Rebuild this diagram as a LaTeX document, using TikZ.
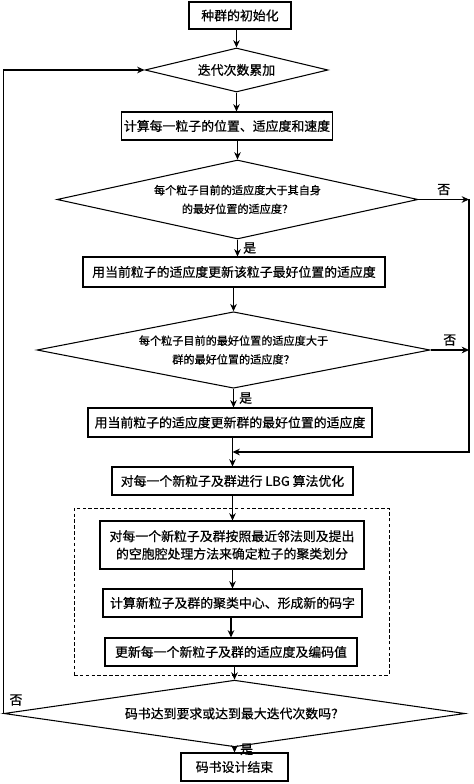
\documentclass[tikz,border=0pt]{standalone}
\usepackage{fontspec}
\setmainfont{Noto Sans CJK SC}[FakeBold=0.6]
\usetikzlibrary{arrows.meta,shapes.geometric}

\begin{document}
\begin{tikzpicture}[
  x=0.3mm, y=-0.3mm,
  box/.style={rectangle, draw, line width=0.9pt, font=\fontsize{11}{15}\selectfont,
              align=center, inner sep=2pt},
  dia/.style={diamond, draw, line width=0.9pt, font=\fontsize{#1}{16}\selectfont,
              align=center, inner sep=0pt, aspect=4},
  dia/.default=11,
  group/.style={rectangle, draw, line width=0.8pt, dash pattern=on 3pt off 2pt},
  ar/.style={-{Stealth[length=2.2mm, width=2mm]}, line width=0.9pt},
  lb/.style={font=\fontsize{11}{13}\selectfont, inner sep=1pt}
]
\useasboundingbox (0,0) rectangle (474,784);

\node[box, minimum width=30.6mm, minimum height=8.1mm] (init) at (240,15.5) {种群的初始化};
\node[dia, minimum width=54.9mm, minimum height=13.2mm] (d1) at (236.5,70) {迭代次数累加};
\node[box, minimum width=63mm, minimum height=8.4mm] (calc) at (227,126) {计算每一粒子的位置、适应度和速度};
\node[dia=9.5, minimum width=108.3mm, minimum height=23.7mm] (d2) at (237.5,199.5)
  {每个粒子目前的适应度大于其自身\\的最好位置的适应度？};
\node[box, minimum width=90.6mm, minimum height=9mm] (pb) at (234,272) {用当前粒子的适应度更新该粒子最好位置的适应度};
\node[dia=9.5, minimum width=117.9mm, minimum height=22.2mm] (d3) at (233.5,350)
  {每个粒子目前的最好位置的适应度大于\\群的最好位置的适应度？};
\node[box, minimum width=85.2mm, minimum height=8.7mm] (gb) at (230,422.5) {用当前粒子的适应度更新群的最好位置的适应度};
\node[box, minimum width=72.3mm, minimum height=8.4mm] (lbg) at (232.5,481) {对每一个新粒子及群进行 LBG 算法优化};
\node[group, minimum width=94.5mm, minimum height=50.1mm] (grp) at (231.5,591.5) {};
\node[box, minimum width=79.2mm, minimum height=14.4mm] (part) at (232,545)
  {对每一个新粒子及群按照最近邻法则及提出\\的空胞腔处理方法来确定粒子的聚类划分};
\node[box, minimum width=77.7mm, minimum height=8.4mm] (cent) at (232.5,603) {计算新粒子及群的聚类中心、形成新的码字};
\node[box, minimum width=75.6mm, minimum height=8.4mm] (upd) at (231,652) {更新每一个新粒子及群的适应度及编码值};
\node[dia, minimum width=138.3mm, minimum height=12.9mm] (d4) at (234.5,713.5) {码书达到要求或达到最大迭代次数吗？};
\node[box, minimum width=32.1mm, minimum height=8.4mm] (done) at (234.5,767) {码书设计结束};

\coordinate (r1) at (469,199.5);
\coordinate (r2) at (469,350);
\coordinate (r3) at (469,452);
\coordinate (jn) at (lbg.north |- r3);

\draw[ar] (init.south -| d1.north) -- (d1.north);
\draw[ar] (d1.south) -- (d1.south |- calc.north);
\draw[ar] (calc.south -| d2.north) -- (d2.north);
\draw[ar] (d2.south) -- node[lb, right=1.2mm] {是} (d2.south |- pb.north);
\draw[ar] (pb.south -| d3.north) -- (d3.north);
\draw[ar] (d3.south) -- node[lb, right=1.2mm] {是} (d3.south |- gb.north);
\draw[ar] (gb.south -| lbg.north) -- (lbg.north);
\draw[ar] (lbg.south) -- (lbg.south |- part.north);
\draw[ar] (part.south -| cent.north) -- (cent.north);
\draw[ar] (cent.south -| upd.north) -- (upd.north);
\draw[ar] (upd.south -| d4.north) -- (d4.north);
\draw[ar] (d4.south) -- node[lb, right=1.2mm, pos=0.4] {是} (d4.south |- done.north);

\draw[ar] (d2.east) -- node[lb, above=0.8mm] {否} (r1);
\draw[ar] (d3.east) -- node[lb, above=0.8mm] {否} (r2);
\draw[ar] (r1) -- (r3) -- (jn);
\draw[ar] (d4.west) |- (d1.west);
\node[lb] (no4) at (16,700) {否};
\end{tikzpicture}
\end{document}
